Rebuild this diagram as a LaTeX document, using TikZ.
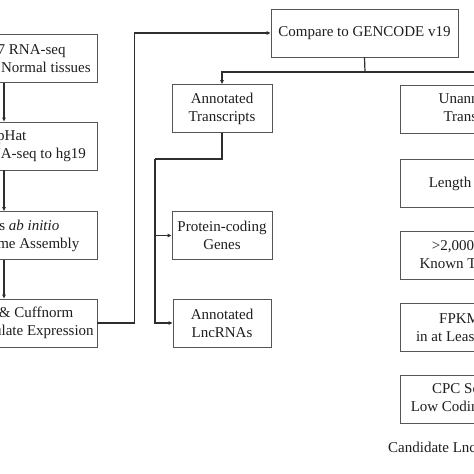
\documentclass[tikz,border=0pt]{standalone}
\usepackage{fontspec}
\setmainfont{Liberation Serif}
\usepackage{tikz}
\usetikzlibrary{arrows.meta}

\definecolor{boxgray}{HTML}{555555}
\definecolor{linegray}{HTML}{2E2E2E}
\definecolor{inkgray}{HTML}{1E1E1E}

\tikzset{
  flowbox/.style={draw=boxgray, line width=0.9pt, minimum height=48pt, align=center,
    inner sep=1pt, text=inkgray, font=\fontsize{15}{18}\selectfont},
  conn/.style={draw=linegray, line width=1.2pt, -{Triangle[length=4pt,width=3.6pt]}},
  plain/.style={draw=linegray, line width=1.2pt}
}

\begin{document}
\begin{tikzpicture}[x=1pt,y=-1pt]
\useasboundingbox (0,0) rectangle (474,474);
\clip (0,0) rectangle (474,474);

% left column
\node[flowbox, minimum width=186pt] (src) at (4,58.5) {Human 27 RNA-seq\\Data from 27 Normal tissues};
\node[flowbox, minimum width=186pt] (map) at (4,146) {TopHat\\Mapping RNA-seq to hg19};
\node[flowbox, minimum width=186pt] (asm) at (4,235.5) {Cufflinks \textit{ab initio}\\Transcriptome Assembly};
\node[flowbox, minimum width=186pt] (quant) at (4,323) {Cuffquant \& Cuffnorm\\Tools to Calculate Expression};

% middle column
\node[flowbox, minimum width=187pt] (cmp) at (364.5,33) {Compare to GENCODE v19};
\node[flowbox, minimum width=100pt] (ann) at (222,108.5) {Annotated\\Transcripts};
\node[flowbox, minimum width=100pt] (pcg) at (222,235.5) {Protein-coding\\Genes};
\node[flowbox, minimum width=98pt] (lnc) at (222,323) {Annotated\\LncRNAs};

% right column
\node[flowbox, minimum width=154pt] (unann) at (477,109) {Unannotated\\Transcripts};
\node[flowbox, minimum width=154pt] (len) at (477,183.5) {Length > 200 nt};
\node[flowbox, minimum width=154pt] (dist) at (477,255.5) {>2,000bp from\\Known Transcripts};
\node[flowbox, minimum width=154pt] (fpkm) at (477,327.5) {FPKM > 0.1\\in at Least 2 Tissues};
\node[flowbox, minimum width=154pt] (cpc) at (477,399.5) {CPC Score < 0\\Low Coding Potential};
\node[anchor=west, inner sep=0pt, text=inkgray, font=\fontsize{15}{18}\selectfont] (cand) at (388,447) {Candidate LncRNAs};

\coordinate (split) at (365,72);
\coordinate (branch) at (155,159);

\draw[conn] (src) -- (map);
\draw[conn] (map) -- (asm);
\draw[conn] (asm) -- (quant);
\draw[conn] (quant.east) -- ++(37,0) |- (cmp);

\draw[plain] (cmp.south) -- (split);
\draw[conn] (split) -| (ann);
\draw[conn] (split) -| (unann);

\draw[plain] (ann.south) |- (branch);
\draw[conn] (branch) |- (pcg);
\draw[conn] (branch) |- (lnc);

\draw[conn] (unann) -- (len);
\draw[conn] (len) -- (dist);
\draw[conn] (dist) -- (fpkm);
\draw[conn] (fpkm) -- (cpc);
\end{tikzpicture}
\end{document}
